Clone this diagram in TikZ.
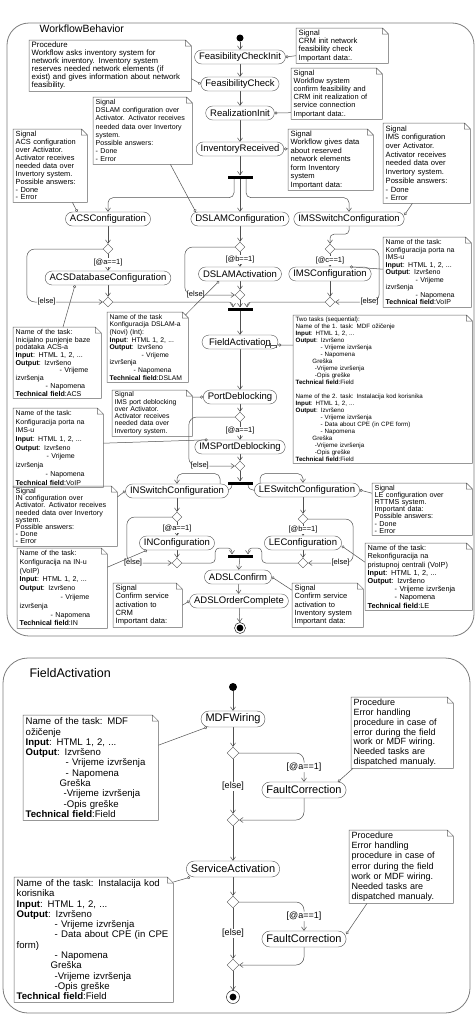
\documentclass[tikz,border=0pt]{standalone}
\usepackage{fontspec}
\setmainfont{Liberation Sans}
\usetikzlibrary{arrows.meta,shapes.geometric}
\definecolor{umlLine}{RGB}{80,80,80}
\definecolor{umlFrame}{RGB}{125,125,125}
\definecolor{umlNote}{RGB}{95,95,95}
\pgfdeclarelayer{background}
\pgfsetlayers{background,main}

\begin{document}
\begin{tikzpicture}[x=1pt,y=-1pt,
  actionstate/.style={
    draw=umlLine,
    fill=white,
    rounded corners=7pt,
    minimum height=14pt,
    inner xsep=4.5pt,
    inner ysep=0pt,
    font=\fontsize{9.5}{11}\selectfont
  },
  bigaction/.style={actionstate,rounded corners=8pt,minimum height=16pt,font=\fontsize{11}{13}\selectfont},
  decision/.style={diamond,draw=umlLine,fill=white,minimum width=10pt,minimum height=10pt,inner sep=0pt},
  bigdecision/.style={decision,minimum width=12pt,minimum height=12pt},
  syncbar/.style={fill=black,minimum width=25pt,minimum height=3pt,inner sep=0pt},
  initial/.style={circle,fill=black,minimum size=7pt,inner sep=0pt},
  final/.style={circle,draw=black,fill=white,minimum size=11pt,inner sep=0pt,
    path picture={\fill[black] (path picture bounding box.center) circle (3.4pt);}},
  flow/.style={draw=umlLine,line width=0.5pt,-{Straight Barb[length=3.5pt,width=5pt]}},
  notelink/.style={draw=umlLine,line width=0.5pt,-{Circle[open,length=3pt,width=3pt]}},
  guard/.style={font=\fontsize{7.5}{9}\selectfont,fill=white,inner sep=0.6pt},
  bigguard/.style={guard,font=\fontsize{9}{11}\selectfont},
  notebox/.style n args={4}{
    anchor=north west,
    align=left,
    text width=#1,
    minimum height=#2,
    inner xsep=2.5pt,
    inner ysep=1.5pt,
    font=\fontsize{#3}{#4}\selectfont
  }
]
  \useasboundingbox (0,0) rectangle (474,1020);

  % WorkflowBehavior
  \node[anchor=west,font=\fontsize{10.5}{12}\selectfont] (wbtitle) at (36,29) {WorkflowBehavior};
  \node[initial] (start1) at (240,38) {};
  \node[actionstate] (fcinit) at (240,57) {FeasibilityCheckInit};
  \node[actionstate] (fcheck) at (240,84) {FeasibilityCheck};
  \node[actionstate] (realinit) at (240,113) {RealizationInit};
  \node[actionstate] (invrec) at (240,149) {InventoryReceived};
  \node[syncbar] (fork1) at (240,177) {};
  \node[actionstate] (acsconf) at (108,219) {ACSConfiguration};
  \node[actionstate] (dslamconf) at (240,219) {DSLAMConfiguration};
  \node[actionstate] (imssw) at (349,219) {IMSSwitchConfiguration};
  \node[decision] (d1) at (108,249) {};
  \node[decision] (d2) at (240,247) {};
  \node[decision] (d3) at (330,249) {};
  \node[actionstate] (acsdb) at (108,278) {ACSDatabaseConfiguration};
  \node[actionstate] (dslamact) at (240,274) {DSLAMActivation};
  \node[actionstate] (imsconf) at (330,274) {IMSConfiguration};
  \node[decision] (m1) at (108,302) {};
  \node[decision] (m2) at (240,295) {};
  \node[decision] (m3) at (330,302) {};
  \node[syncbar] (join1) at (240,309) {};
  \node[actionstate,minimum width=76pt] (fieldact) at (240,342) {FieldActivation};
  \node[actionstate] (portdeb) at (240,397) {PortDeblocking};
  \node[decision] (d4) at (240,417) {};
  \node[actionstate] (imspd) at (240,447) {IMSPortDeblocking};
  \node[decision] (m4) at (240,466) {};
  \node[syncbar] (fork2) at (240,483) {};
  \node[actionstate] (inswitch) at (177,491) {INSwitchConfiguration};
  \node[actionstate] (leswitch) at (307,490) {LESwitchConfiguration};
  \node[decision] (d5) at (177,517) {};
  \node[decision] (d6) at (303,519) {};
  \node[actionstate] (inconf) at (177,543) {INConfiguration};
  \node[actionstate] (leconf) at (303,543) {LEConfiguration};
  \node[decision] (m5) at (177,563) {};
  \node[decision] (m6) at (303,563) {};
  \node[syncbar] (join2) at (240,556) {};
  \node[actionstate] (adslconf) at (238,577) {ADSLConfirm};
  \node[actionstate] (adslorder) at (239,601) {ADSLOrderComplete};
  \node[final] (end1) at (240,628) {};

  % FieldActivation
  \node[anchor=west,font=\fontsize{12.5}{14}\selectfont] (fatitle) at (26,673) {FieldActivation};
  \node[initial,minimum size=8pt] (start2) at (233,687) {};
  \node[bigaction] (mdf) at (233,719) {MDFWiring};
  \node[bigdecision] (d7) at (233,753) {};
  \node[bigaction] (fc1) at (304,790) {FaultCorrection};
  \node[bigdecision] (m7) at (233,820) {};
  \node[bigaction] (servact) at (233,869) {ServiceActivation};
  \node[bigdecision] (d8) at (233,902) {};
  \node[bigaction] (fc2) at (304,939) {FaultCorrection};
  \node[bigdecision] (m8) at (233,965) {};
  \node[final,minimum size=13pt] (end2) at (233,997) {};

  % notes
  \node[notebox={157pt}{51pt}{7.8}{8.1}] (n1) at (29,40) {Procedure\\
    Workflow asks inventory system for\\
    network inventory. Inventory system\\
    reserves needed network elements (if\\
    exist) and gives information about network\\
    feasibility.};
  \node[notebox={87pt}{35pt}{7.6}{8.3}] (n2) at (296,28) {Signal\\CRM init network\\feasibility check\\Important data:.};
  \node[notebox={86pt}{51pt}{7.4}{8.2}] (n3) at (291,68) {Signal\\Workflow system\\confirm feasibility and\\CRM init realization of\\service connection\\Important data:.};
  \node[notebox={94pt}{67pt}{7.1}{8.2}] (n4) at (93,97) {Signal\\DSLAM configuration over\\Activator. Activator receives\\needed data over Invertory\\system.\\Possible answers:\\- Done\\- Error};
  \node[notebox={69pt}{73pt}{7.4}{7.9}] (n5) at (13,129) {Signal\\ACS configuration\\over Activator.\\Activator receives\\needed data over\\Invertory system.\\Possible answers:\\- Done\\- Error};
  \node[notebox={80pt}{61pt}{7.6}{8.5}] (n6) at (288,129) {Signal\\Workflow gives data\\about reserved\\network elements\\form Inventory\\system\\Important data:};
  \node[notebox={82pt}{80pt}{7.6}{8.7}] (n7) at (383,123) {Signal\\IMS configuration\\over Activator.\\Activator receives\\needed data over\\Invertory system.\\Possible answers:\\- Done\\- Error};
  \node[notebox={83pt}{70pt}{7.0}{7.55}] (n8) at (383,237) {Name of the task:\\Konfiguracija porta na\\IMS-u\\\textbf{Input}: HTML 1, 2, ...\\\textbf{Output}: Izvršeno\\\hspace*{30pt}- Vrijeme\\izvršenja\\\hspace*{30pt}- Napomena\\\textbf{Technical field}:VoIP};
  \node[notebox={83pt}{71pt}{7.1}{7.7}] (n9) at (13,327) {Name of the task:\\Inicijalno punjenje baze\\podataka ACS-a\\\textbf{Input}: HTML 1, 2, ...\\\textbf{Output}: Izvršeno\\\hspace*{44pt}- Vrijeme\\izvršenja\\\hspace*{30pt}- Napomena\\\textbf{Technical field}:ACS};
  \node[notebox={76pt}{70pt}{6.8}{7.6}] (n10) at (107,312) {Name of the task\\Konfiguracija DSLAM-a\\(Novi) (Int):\\\textbf{Input}: HTML 1, 2, ...\\\textbf{Output}: Izvršeno\\\hspace*{32pt}- Vrijeme\\izvršenja\\\hspace*{24pt}- Napomena\\\textbf{Technical field}:DSLAM};
  \node[notebox={174pt}{148pt}{6.2}{7.0}] (n11) at (293,315) {Two tasks (sequential):\\
    Name of the 1. task: MDF ožičenje\\
    \textbf{Input}: HTML 1, 2, ...\\
    \textbf{Output}: Izvršeno\\
    \hspace*{4em}- Vrijeme izvršenja\\
    \hspace*{4em}- Napomena\\
    \hspace*{2.7em}Greška\\
    \hspace*{3.1em}-Vrijeme izvršenja\\
    \hspace*{3.1em}-Opis greške\\
    \textbf{Technical field}:Field\\
    \mbox{}\\
    Name of the 2. task: Instalacija kod korisnika\\
    \textbf{Input}: HTML 1, 2, ...\\
    \textbf{Output}: Izvršeno\\
    \hspace*{4em}- Vrijeme izvršenja\\
    \hspace*{4em}- Data about CPE (in CPE form)\\
    \hspace*{4em}- Napomena\\
    \hspace*{2.7em}Greška\\
    \hspace*{3.1em}-Vrijeme izvršenja\\
    \hspace*{3.1em}-Opis greške\\
    \textbf{Technical field}:Field};
  \node[notebox={75pt}{46pt}{6.9}{7.3}] (n12) at (112,390) {Signal\\IMS port deblocking\\over Activator.\\Activator receives\\needed data over\\Invertory system.};
  \node[notebox={85pt}{79pt}{7.0}{8.7}] (n13) at (13,408) {Name of the task:\\Konfiguracija porta na\\IMS-u\\\textbf{Input}: HTML 1, 2, ...\\\textbf{Output}: Izvršeno\\\hspace*{31pt}- Vrijeme\\izvršenja\\\hspace*{30pt}- Napomena\\\textbf{Technical field}:VoIP};
  \node[notebox={99pt}{60pt}{7.2}{7.2}] (n14) at (13,486) {Signal\\IN configuration over\\Activator. Activator receives\\needed data over Invertory\\system.\\Possible answers:\\- Done\\- Error};
  \node[notebox={95pt}{52pt}{7.2}{7.2}] (n15) at (372,483) {Signal\\LE configuration over\\RTTMS system.\\Important data:\\Possible answers:\\- Done\\- Error};
  \node[notebox={85pt}{80pt}{7.1}{8.8}] (n16) at (17,548) {Name of the task:\\Konfiguracija na IN-u\\(VoIP)\\\textbf{Input}: HTML 1, 2, ...\\\textbf{Output}: Izvršeno\\\hspace*{41pt}- Vrijeme\\izvršenja\\\hspace*{31pt}- Napomena\\\textbf{Technical field}:IN};
  \node[notebox={102pt}{67pt}{7.3}{8.2}] (n17) at (365,543) {Name of the task:\\Rekonfiguracija na\\pristupnoj centrali (VoIP)\\\textbf{Input}: HTML 1, 2, ...\\\textbf{Output}: Izvršeno\\\hspace*{27pt}- Vrijeme izvršenja\\\hspace*{27pt}- Napomena\\\textbf{Technical field}:LE};
  \node[notebox={64pt}{44pt}{7.6}{8.4}] (n18) at (113,583) {Signal\\Confirm service\\activation to\\CRM\\Important data:};
  \node[notebox={66pt}{44pt}{7.5}{8.4}] (n19) at (292,583) {Signal\\Confirm service\\activation to\\Inventory system\\Important data:};
  \node[notebox={130pt}{105pt}{9.6}{10.3}] (nA) at (23,715) {Name of the task: MDF\\ožičenje\\\textbf{Input}: HTML 1, 2, ...\\\textbf{Output}: Izvršeno\\\hspace*{40pt}- Vrijeme izvršenja\\\hspace*{40pt}- Napomena\\\hspace*{34pt}Greška\\\hspace*{38pt}-Vrijeme izvršenja\\\hspace*{38pt}-Opis greške\\\textbf{Technical field}:Field};
  \node[notebox={97pt}{71pt}{9.0}{9.9}] (nB) at (351,697) {Procedure\\Error handling\\procedure in case of\\error during the field\\work or MDF wiring.\\Needed tasks are\\dispatched manualy.};
  \node[notebox={154pt}{125pt}{9.6}{10.3}] (nC) at (14,877) {Name of the task: Instalacija kod\\korisnika\\\textbf{Input}: HTML 1, 2, ...\\\textbf{Output}: Izvršeno\\\hspace*{38pt}- Vrijeme izvršenja\\\hspace*{38pt}- Data about CPE (in CPE\\form)\\\hspace*{38pt}- Napomena\\\hspace*{34pt}Greška\\\hspace*{38pt}-Vrijeme izvršenja\\\hspace*{38pt}-Opis greške\\\textbf{Technical field}:Field};
  \node[notebox={99pt}{73pt}{9.0}{10.2}] (nD) at (349,830) {Procedure\\Error handling\\procedure in case of\\error during the field\\work or MDF wiring.\\Needed tasks are\\dispatched manualy.};

  \foreach \n in {n1,n2,n3,n4,n5,n6,n7,n8,n9,n10,n11,n12,n13,n14,n15,n16,n17,n18,n19,nA,nB,nC,nD}
    \draw[umlNote,line width=0.5pt] (\n.north west) -- ([xshift=-6pt]\n.north east) -- ([yshift=-6pt]\n.north east)
      -- (\n.south east) -- (\n.south west) -- cycle
      ([xshift=-6pt]\n.north east) |- ([yshift=-6pt]\n.north east);

  % rake of FieldActivation
  \draw[umlLine,line width=0.5pt] (265,348) -- (265,345.5) -- (276,345.5) -- (276,348) (270.5,343) -- (270.5,348);

  \begin{pgfonlayer}{background}
    \draw[umlFrame,line width=0.8pt,rounded corners=22pt] (7,23) rectangle (474,636);
    \draw[umlFrame,line width=0.8pt,rounded corners=25pt] (3,658) rectangle (470,1013);

    \draw[flow] (start1) -- (fcinit);
    \draw[flow] (fcinit) -- (fcheck);
    \draw[flow] (fcheck) -- (realinit);
    \draw[flow] (realinit) -- (invrec);
    \draw[flow] (invrec) -- (fork1);
    \draw[flow,rounded corners=5pt] ([xshift=-6pt]fork1.south) -- ++(0,19) -| (acsconf.north);
    \draw[flow] (fork1) -- (dslamconf);
    \draw[flow,rounded corners=5pt] ([xshift=6pt]fork1.south) -- ++(0,19) -| (imssw.north);
    \draw[flow] (acsconf) -- (d1);
    \draw[flow] (dslamconf) -- (d2);
    \draw[flow,rounded corners=4pt] (imssw.south) -- ++(0,8) -| (d3.north);
    \draw[flow] (d1) -- node[guard] {[@a==1]} (acsdb);
    \draw[flow] (d2) -- node[guard] {[@b==1]} (dslamact);
    \draw[flow] (d3) -- node[guard] {[@c==1]} (imsconf);
    \draw[flow,rounded corners=8pt] (d1.west) -- ++(-76,0) |- node[guard,pos=0.63] {[else]} (m1.west);
    \draw[flow,rounded corners=8pt] (d2.west) -- ++(-50,0) |- node[guard,pos=0.61] {[else]} (m2.west);
    \draw[flow,rounded corners=8pt] (d3.east) -- ++(44,0) |- node[guard,pos=0.61] {[else]} (m3.east);
    \draw[flow] (acsdb) -- (m1);
    \draw[flow] (dslamact) -- (m2);
    \draw[flow] (imsconf) -- (m3);
    \draw[flow,rounded corners=4pt] (m1.east) -| ([xshift=-7pt]join1.north);
    \draw[flow] (m2) -- (join1);
    \draw[flow,rounded corners=4pt] (m3.west) -| ([xshift=7pt]join1.north);
    \draw[flow] (join1) -- (fieldact);
    \draw[flow] (fieldact) -- (portdeb);
    \draw[flow] (portdeb) -- (d4);
    \draw[flow] (d4) -- node[guard] {[@a==1]} (imspd);
    \draw[flow,rounded corners=8pt] (d4.west) -- ++(-46,0) |- node[guard,pos=0.62] {[else]} (m4.west);
    \draw[flow] (imspd) -- (m4);
    \draw[flow] (m4) -- (fork2);
    \draw[flow] ([xshift=-8pt]fork2.south) to[out=-90,in=-90,looseness=1.6] ++(-12,0)
      [rounded corners=5pt] -- ++(0,-11) -| (inswitch.north);
    \draw[flow] ([xshift=8pt]fork2.south) to[out=-90,in=-90,looseness=1.6] ++(12,0)
      [rounded corners=5pt] -- ++(0,-11) -| ([xshift=-4pt]leswitch.north);
    \draw[flow] (inswitch) -- (d5);
    \draw[flow] ([xshift=-4pt]leswitch.south) -- (d6.north);
    \draw[flow] (d5) -- node[guard] {[@a==1]} (inconf);
    \draw[flow] (d6) -- node[guard] {[@b==1]} (leconf);
    \draw[flow,rounded corners=8pt] (d5.west) -- ++(-45,0) |- node[guard,pos=0.57] {[else]} (m5.west);
    \draw[flow,rounded corners=8pt] (d6.east) -- ++(45,0) |- node[guard,pos=0.64] {[else]} (m6.east);
    \draw[flow] (inconf) -- (m5);
    \draw[flow] (leconf) -- (m6);
    \draw[flow,rounded corners=4pt] (m5.east) -- ++(33,0) -- ++(0,-15) -| ([xshift=-8pt]join2.north);
    \draw[flow,rounded corners=4pt] (m6.west) -- ++(-36,0) -- ++(0,-15) -| ([xshift=8pt]join2.north);
    \draw[flow] (join2) -- (adslconf);
    \draw[flow] (adslconf) -- (adslorder);
    \draw[flow] (adslorder) -- (end1);

    \draw[flow] (start2) -- (mdf);
    \draw[flow] (mdf) -- (d7);
    \draw[flow,rounded corners=8pt] (d7.east) -| node[bigguard,pos=0.75] {[@a==1]} (fc1.north);
    \draw[flow] (d7) -- node[bigguard] {[else]} (m7);
    \draw[flow,rounded corners=8pt] (fc1.south) |- (m7.east);
    \draw[flow] (m7) -- (servact);
    \draw[flow] (servact) -- (d8);
    \draw[flow,rounded corners=8pt] (d8.east) -| node[bigguard,pos=0.75] {[@a==1]} (fc2.north);
    \draw[flow] (d8) -- node[bigguard] {[else]} (m8);
    \draw[flow,rounded corners=8pt] (fc2.south) |- (m8.east);
    \draw[flow] (m8) -- (end2);
  \end{pgfonlayer}

  % note links
  \draw[notelink] ([yshift=-13pt]n1.east) -- (fcheck.west);
  \draw[notelink] ([yshift=-10pt]n2.west) -- (fcinit.east);
  \draw[notelink] ([yshift=-19pt]n3.west) -- (realinit.east);
  \draw[notelink] ([xshift=-22pt]n4.south east) -- ([xshift=5pt]dslamconf.north west);
  \draw[notelink] ([xshift=-15pt]n5.south east) -- ([xshift=12pt]acsconf.north west);
  \draw[notelink] ([yshift=11pt]n6.west) -- (invrec.east);
  \draw[notelink] ([xshift=-58pt]n7.south east) -- ([yshift=4pt]imssw.east);
  \draw[notelink] ([yshift=3pt]n8.west) -- ([xshift=20pt]imsconf.north);
  \draw[notelink] ([xshift=50pt]n9.north west) -- ([xshift=-33pt]acsdb.south);
  \draw[notelink] ([xshift=-3pt,yshift=-3pt]n10.north east) -- ([xshift=-21pt]dslamact.south);
  \draw[notelink] ([yshift=44pt]n11.west) -- ([yshift=-3pt]fieldact.east);
  \draw[notelink] ([yshift=16pt]n12.east) -- (portdeb.west);
  \draw[notelink] ([yshift=4.5pt]n13.east) -- ([xshift=13pt]imspd.north west);
  \draw[notelink] ([yshift=-11pt]n14.north east) -- (inswitch.west);
  \draw[notelink] ([yshift=16pt]n15.west) -- (leswitch.east);
  \draw[notelink] ([yshift=21pt]n16.east) -- ([xshift=-30pt]inconf.south);
  \draw[notelink] ([yshift=14.5pt]n17.west) -- ([yshift=-3pt]leconf.east);
  \draw[notelink] (n18.east) -- (adslorder.west);
  \draw[notelink] ([yshift=15pt]n19.west) -- (adslconf.east);
  \draw[notelink] ([yshift=22.5pt]nA.east) -- ([xshift=-26pt]mdf.south);
  \draw[notelink] ([xshift=2pt]nB.south west) -- ([xshift=34pt]fc1.north);
  \draw[notelink] ([yshift=-5pt]nC.north east) -- ([xshift=4pt]servact.south west);
  \draw[notelink] ([xshift=18pt]nD.south west) -- ([yshift=5pt]fc2.east);
\end{tikzpicture}
\end{document}
